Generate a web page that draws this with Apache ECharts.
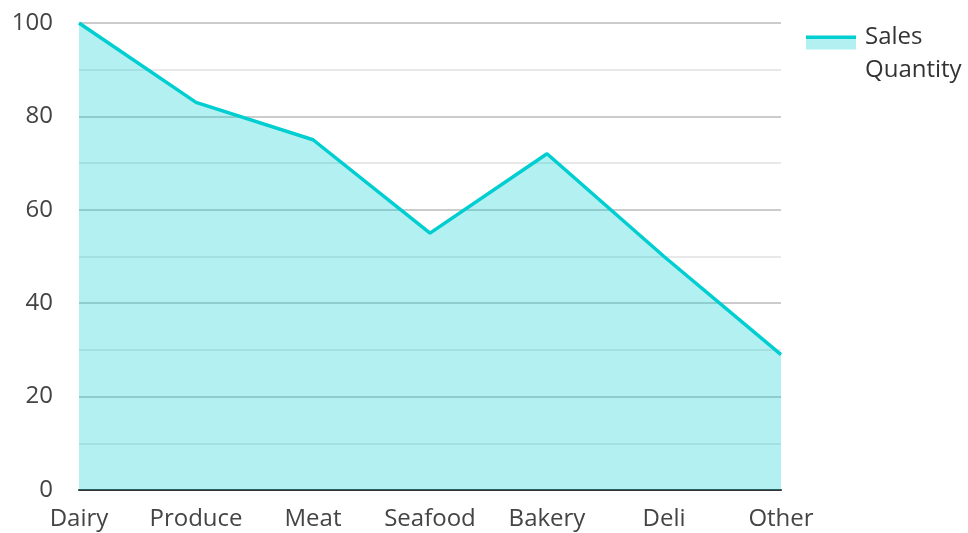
<!DOCTYPE html>
<html>
<head>
<meta charset="utf-8">
<script src="https://cdn.jsdelivr.net/npm/echarts@6/dist/echarts.min.js"></script>
<style>
html,body{margin:0;padding:0;background:#fff;}
#chart{width:968px;height:533px;}
</style>
</head>
<body>
<div id="chart"></div>
<script>
const categories = ['Dairy', 'Produce', 'Meat', 'Seafood', 'Bakery', 'Deli', 'Other'];
const salesQuantity = [100, 83, 75, 55, 72, 50, 29];
const seriesName = 'Sales Quantity';

const chart = echarts.init(document.getElementById('chart'), null, {renderer: 'canvas'});
const font = '"Open Sans", "Noto Sans", sans-serif';
chart.setOption({
  animation: false,
  grid: {left: 79, right: 187, top: 23, bottom: 43, containLabel: false},
  legend: {
    data: [seriesName],
    left: 806,
    top: 9,
    padding: 0,
    orient: 'vertical',
    icon: 'rect',
    itemWidth: 50,
    itemHeight: 14,
    itemGap: 10,
    formatter: function () { return '{s| }\n{a|Sales}\n{a|Quantity}'; },
    itemStyle: {
      color: new echarts.graphic.LinearGradient(0, 0, 0, 1, [
        {offset: 0, color: '#00CED1'},
        {offset: 0.28, color: '#00CED1'},
        {offset: 0.28, color: 'rgba(0,206,209,0.3)'},
        {offset: 1, color: 'rgba(0,206,209,0.3)'}
      ]),
      borderWidth: 0
    },
    textStyle: {
      fontFamily: font,
      fontSize: 24,
      color: '#333',
      rich: {
        s: {fontSize: 1, lineHeight: 23},
        a: {fontFamily: font, fontSize: 24, lineHeight: 33, color: '#333', padding: [0, 0, 0, 4]}
      }
    }
  },
  xAxis: {
    type: 'category',
    data: categories,
    boundaryGap: false,
    axisLine: {show: true, lineStyle: {color: '#333', width: 2}},
    axisTick: {show: false},
    axisLabel: {fontFamily: font, fontSize: 24, color: '#444', margin: 17, interval: 0},
    splitLine: {show: false}
  },
  yAxis: {
    type: 'value',
    min: 0,
    max: 100,
    interval: 20,
    axisLine: {show: false},
    axisTick: {show: false},
    axisLabel: {fontFamily: font, fontSize: 24, color: '#444', margin: 26},
    splitLine: {show: true, lineStyle: {color: '#cccccc', width: 2}},
    minorTick: {show: false, splitNumber: 2},
    minorSplitLine: {show: true, lineStyle: {color: '#e8e8e8', width: 2}}
  },
  series: [{
    name: seriesName,
    type: 'line',
    data: salesQuantity,
    showSymbol: false,
    symbol: 'none',
    lineStyle: {color: '#00CED1', width: 3.5},
    itemStyle: {color: '#00CED1'},
    areaStyle: {color: '#00CED1', opacity: 0.3}
  }]
});
</script>
</body>
</html>
